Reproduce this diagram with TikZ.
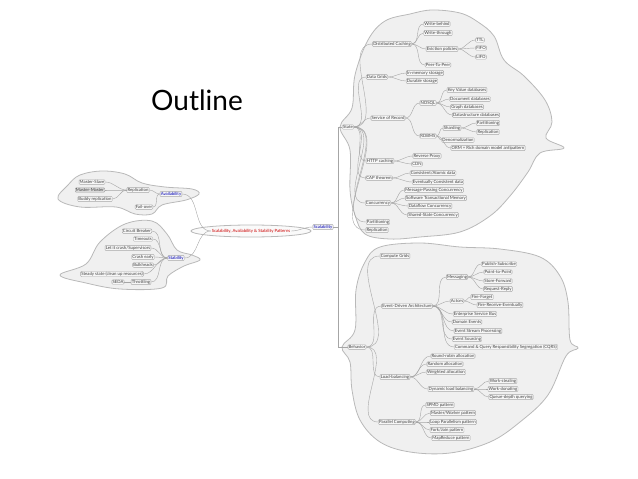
\documentclass[tikz,border=0pt]{standalone}
\usepackage{fontspec}
\setmainfont{Lato}
\usetikzlibrary{positioning, shapes}

\begin{document}
\begin{tikzpicture}[x=1pt, y=-1pt,
    topic/.style={rectangle, draw=gray!70, fill=gray!6, rounded corners=1pt, inner sep=0.7pt,
      font=\fontsize{4.3}{5}\selectfont, text=black!75},
    hub/.style={topic, text=blue!70!black},
    cloud/.style={draw=gray!55, fill=gray!12, line width=0.8pt},
    link/.style={draw=gray!70, line width=0.4pt}]
    \useasboundingbox (0,0) rectangle (638,479);
    \node[font=\fontsize{28}{30}\selectfont] (title) at (197,100) {Outline};

    % clouds
    \draw[cloud] plot[smooth cycle, tension=0.6] coordinates {(58,199) (68,185) (80,175) (102,171) (125,174) (142,183) (165,187) (192,189) (199,194) (186,200) (162,205) (152,214) (135,214) (116,207) (80,207)};
    \draw[cloud] plot[smooth cycle, tension=0.6] coordinates {(60,275) (86,264) (100,242) (125,224) (152,221) (167,234) (177,250) (192,255) (200,260) (184,266) (168,276) (162,288) (120,289) (86,283)};
    \draw[cloud] plot[smooth cycle, tension=0.6] coordinates {(340,127) (352,108) (355,75) (368,40) (385,21) (410,14) (432,10) (460,13) (478,22) (494,36) (504,60) (524,76) (545,100) (552,122) (546,138) (564,148) (540,153) (528,172) (510,196) (490,216) (460,232) (420,237) (390,239) (365,234) (355,215) (350,190) (350,150)};
    \draw[cloud] plot[smooth cycle, tension=0.6] coordinates {(342,347) (355,330) (356,290) (365,262) (380,247) (420,243) (460,247) (500,249) (540,257) (560,276) (568,302) (570,340) (578,348) (566,356) (548,395) (520,422) (490,442) (450,453) (410,452) (380,442) (360,420) (352,390) (350,362)};
    \draw[cloud, fill=gray!4] (251,231) ellipse (60 and 6);

    % left side
    \node[topic, draw=none, fill=none, text=red!80!black] (root) at (251,231) {Scalability, Availability \& Stability Patterns};
    \node[hub] (scal) at (323,227) {Scalability};
    \node[hub] (avail) at (171,194) {Availability};
    \node[topic] (repl) at (138,190) {Replication};
    \node[topic] (ms) at (92,182) {Master-Slave};
    \node[topic, fill=gray!30] (mm) at (90,190) {Master-Master};
    \node[topic] (buddy) at (95,199) {Buddy replication};
    \node[topic] (fail) at (144,207) {Fail-over};
    \node[hub] (stab) at (176,258) {Stability};
    \node[topic] (cb) at (137,231) {Circuit Breaker};
    \node[topic] (to) at (143,239) {Timeouts};
    \node[topic] (lic) at (128,248) {Let it crash/Supervisors};
    \node[topic] (ce) at (143,257) {Crash early};
    \node[topic] (bh) at (143,265) {Bulkheads};
    \node[topic] (ss) at (112,274) {Steady state (clean up resources)};
    \node[topic] (thr) at (141,282) {Throttling};
    \node[topic] (seda) at (118,282) {SEDA};

    \foreach \a/\b in {root/avail, root/stab, avail/repl, avail/fail, repl/ms, repl/mm, repl/buddy,
        stab/cb, stab/to, stab/lic, stab/ce, stab/bh, stab/ss, stab/thr, thr/seda}
      \draw[link] (\a.west) to[out=180, in=0] (\b.east);
    \draw[link] (root.east) to[out=0, in=180] (scal.west);

    % state
    \node[topic] (state) at (348,127) {State};
    \node[topic] (dc) at (392,44) {Distributed Caching};
    \node[topic] (wb) at (437,24) {Write-behind};
    \node[topic] (wt) at (438,33) {Write-through};
    \node[topic] (ev) at (442,49) {Eviction policies};
    \node[topic] (ttl) at (480,40) {TTL};
    \node[topic] (fifo) at (481,48) {FIFO};
    \node[topic] (lifo) at (481,57) {LIFO};
    \node[topic] (p2p) at (438,65) {Peer-To-Peer};
    \node[topic] (dg) at (377,77) {Data Grids};
    \node[topic] (ims) at (425,73) {In-memory storage};
    \node[topic] (ds) at (422,81) {Durable storage};
    \node[topic] (sor) at (388,118) {Service of Record};
    \node[topic] (nosql) at (428,103) {NOSQL};
    \node[topic] (kv) at (467,90) {Key Value databases};
    \node[topic] (doc) at (470,99) {Document databases};
    \node[topic] (gr) at (467,107) {Graph databases};
    \node[topic] (dsd) at (476,115) {Datastructure databases};
    \node[topic] (rdb) at (428,136) {RDBMS};
    \node[topic] (shd) at (452,128) {Sharding};
    \node[topic] (prt) at (488,123) {Partitioning};
    \node[topic] (rep2) at (488,132) {Replication};
    \node[topic] (den) at (458,140) {Denormalization};
    \node[topic] (orm) at (488,148) {ORM + Rich domain model antipattern};
    \node[topic] (http) at (380,161) {HTTP caching};
    \node[topic] (rp) at (427,156) {Reverse Proxy};
    \node[topic] (cdn) at (417,164) {CDN};
    \node[topic] (cap) at (379,178) {CAP theorem};
    \node[topic] (cad) at (433,173) {Consistent/Atomic data};
    \node[topic] (ecd) at (438,182) {Eventually Consistent data};
    \node[topic] (conc) at (378,203) {Concurrency};
    \node[topic] (mpc) at (434,190) {Message-Passing Concurrency};
    \node[topic] (stm) at (436,198) {Software Transactional Memory};
    \node[topic] (dfc) at (430,206) {Dataflow Concurrency};
    \node[topic] (ssc) at (433,215) {Shared-State Concurrency};
    \node[topic] (part) at (378,222) {Partitioning};
    \node[topic] (repl3) at (377,230) {Replication};

    % behavior
    \node[topic] (beh) at (357,347) {Behavior};
    \node[topic] (cg) at (395,256) {Compute Grids};
    \node[topic] (eda) at (407,306) {Event-Driven Architecture};
    \node[topic] (msg) at (457,277) {Messaging};
    \node[topic] (ps) at (499,264) {Publish-Subscribe};
    \node[topic] (ptp) at (498,272) {Point-to-Point};
    \node[topic] (sf) at (498,281) {Store-Forward};
    \node[topic] (rr) at (498,289) {Request-Reply};
    \node[topic] (act) at (457,301) {Actors};
    \node[topic] (ff) at (482,297) {Fire-Forget};
    \node[topic] (fre) at (500,305) {Fire-Receive-Eventually};
    \node[topic] (esb) at (475,314) {Enterprise Service Bus};
    \node[topic] (de) at (467,322) {Domain Events};
    \node[topic] (esp) at (478,331) {Event Stream Processing};
    \node[topic] (es) at (467,339) {Event Sourcing};
    \node[topic] (cqrs) at (506,347) {Command \& Query Responsibility Segregation (CQRS)};
    \node[topic] (lb) at (395,377) {Load-balancing};
    \node[topic] (rra) at (453,356) {Round-robin allocation};
    \node[topic] (ra) at (445,364) {Random allocation};
    \node[topic] (wa) at (446,372) {Weighted allocation};
    \node[topic] (dlb) at (451,389) {Dynamic load balancing};
    \node[topic] (wst) at (503,381) {Work-stealing};
    \node[topic] (wdo) at (503,389) {Work-donating};
    \node[topic] (qdq) at (511,397) {Queue-depth querying};
    \node[topic] (pc) at (397,422) {Parallel Computing};
    \node[topic] (spmd) at (440,405) {SPMD pattern};
    \node[topic] (mw) at (453,413) {Master/Worker pattern};
    \node[topic] (lp) at (453,422) {Loop Parallelism pattern};
    \node[topic] (fj) at (447,430) {Fork/Join pattern};
    \node[topic] (mr) at (451,438) {MapReduce pattern};

    \coordinate (trunk) at (338,227);
    \draw[link] (scal.east) -- (trunk) |- (state.west);
    \draw[link] (trunk) |- (beh.west);
    \foreach \a/\b in {state/dc, state/dg, state/sor, state/http, state/cap, state/conc, state/part, state/repl3,
        dc/wb, dc/wt, dc/ev, dc/p2p, ev/ttl, ev/fifo, ev/lifo, dg/ims, dg/ds,
        sor/nosql, sor/rdb, nosql/kv, nosql/doc, nosql/gr, nosql/dsd, rdb/shd, rdb/den, rdb/orm, shd/prt, shd/rep2,
        http/rp, http/cdn, cap/cad, cap/ecd, conc/mpc, conc/stm, conc/dfc, conc/ssc,
        beh/cg, beh/eda, beh/lb, beh/pc, eda/msg, eda/act, eda/esb, eda/de, eda/esp, eda/es, eda/cqrs,
        msg/ps, msg/ptp, msg/sf, msg/rr, act/ff, act/fre, lb/rra, lb/ra, lb/wa, lb/dlb, dlb/wst, dlb/wdo, dlb/qdq,
        pc/spmd, pc/mw, pc/lp, pc/fj, pc/mr}
      \draw[link] (\a.east) to[out=0, in=180] (\b.west);
\end{tikzpicture}
\end{document}
